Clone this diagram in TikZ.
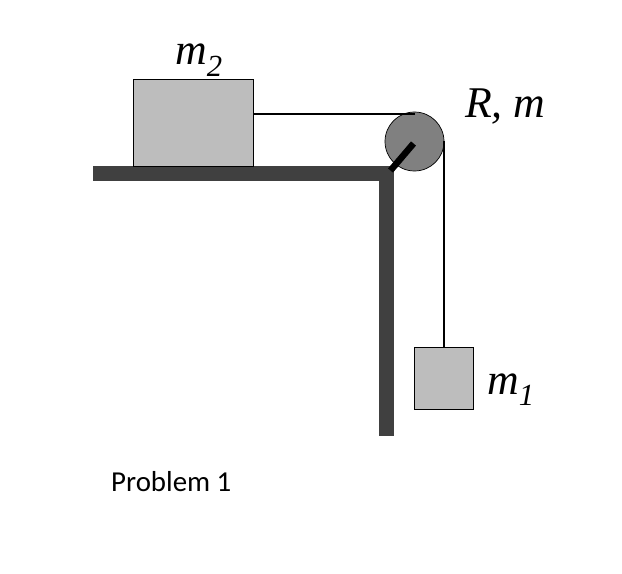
\documentclass[tikz,border=0pt]{standalone}
\usepackage{fontspec}
\setmainfont{Liberation Serif}
\setsansfont{Carlito}
\tikzset{
  block/.style={draw=black,line width=0.6pt,fill=black!26,anchor=north west,inner sep=0pt,outer sep=0pt},
  wall/.style={line width=14.4bp,draw=black!75,line cap=butt},
  rope/.style={line width=1.5bp,draw=black},
  lab/.style={font=\itshape\fontsize{44}{44}\selectfont,inner sep=0pt,anchor=base west},
}
\begin{document}
\begin{tikzpicture}[x=1bp,y=-1bp]
\useasboundingbox (0,0) rectangle (622,574);
\fill[white] (0,0) rectangle (622,574);
\coordinate (wl) at (93,173.5);
\coordinate (wc) at (386.5,173.5);
\coordinate (wb) at (386.5,436);
\draw[wall] (wl) -- (wc) -- (wb);
\node[block,minimum width=120bp,minimum height=87bp] (m2) at (133.5,79) {};
\node[block,minimum width=59bp,minimum height=62bp] (m1) at (414.5,347.5) {};
\node[circle,draw=black,line width=0.7pt,fill=black!50,minimum size=59bp,inner sep=0pt] (p) at (414.5,141.5) {};
\coordinate (ptop) at (414.5,114);
\coordinate (pright) at (444,141.5);
\coordinate (m1top) at (444,347.5);
\coordinate (m2r) at (253.5,114);
\draw[rope] (m2r) -- (ptop);
\draw[rope] (pright) -- (m1top);
\coordinate (a1) at (390.5,170.5);
\coordinate (a2) at (413.5,143.5);
\draw[line width=6.5bp,black] (a1) -- (a2);
\node[lab] (t2) at (175,65) {m\textsubscript{2}};
\node[lab] (tr) at (465,118) {R, m};
\node[lab] (t1) at (487,394) {m\textsubscript{1}};
\node[font=\sffamily\fontsize{29}{29}\selectfont,inner sep=0pt,anchor=base west] (tp) at (111,491) {Problem 1};
\end{tikzpicture}
\end{document}
